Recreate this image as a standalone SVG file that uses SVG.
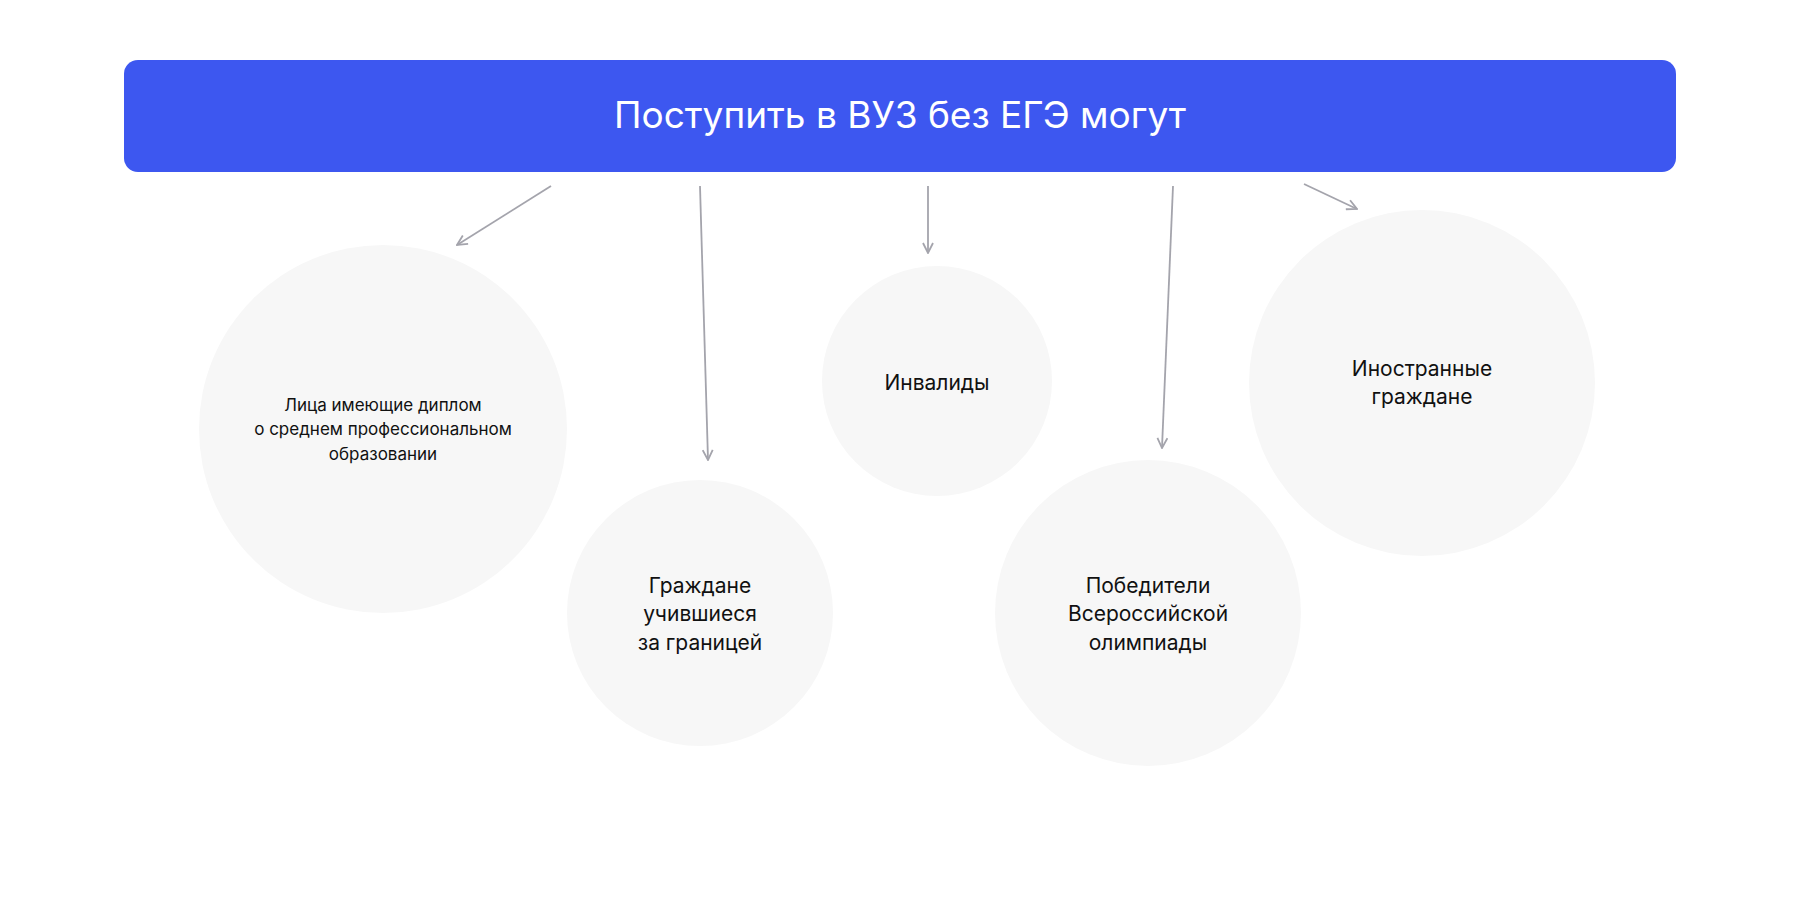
<svg xmlns="http://www.w3.org/2000/svg" width="1800" height="900" viewBox="0 0 1800 900">
<style>
.c{fill:#f7f7f7}
.t{font-family:Inter,"Noto Sans",sans-serif;fill:#111;text-anchor:middle;dominant-baseline:middle}
.s{font-size:17px}.m{font-size:21px}
.a{stroke:#a4a4ac;stroke-width:1.8;fill:none;marker-end:url(#h)}
</style>
<defs><marker id="h" viewBox="0 0 12 12" refX="11" refY="6" markerWidth="12" markerHeight="12" markerUnits="userSpaceOnUse" orient="auto"><path d="M1,1 L11,6 L1,11" fill="none" stroke="#a4a4ac" stroke-width="1.8"/></marker></defs>
<rect width="1800" height="900" fill="#fff"/>
<g id="header"><rect x="124" y="60" width="1552" height="112" rx="14" fill="#3d57f0"/><text class="t" x="900" y="118" font-size="37" fill="#fff" style="fill:#fff">Поступить в ВУЗ без ЕГЭ могут</text></g>
<g id="connectors">
<line class="a" x1="551" y1="186" x2="457" y2="245"/>
<line class="a" x1="700" y1="186" x2="708" y2="460"/>
<line class="a" x1="928" y1="186" x2="928" y2="253"/>
<line class="a" x1="1173" y1="186" x2="1162" y2="448"/>
<line class="a" x1="1304" y1="184" x2="1357" y2="209"/>
</g>
<g id="n1"><circle class="c" cx="383" cy="429" r="184"/><text class="t s" x="383" y="406">Лица имеющие диплом</text><text class="t s" x="383" y="430">о среднем профессиональном</text><text class="t s" x="383" y="455">образовании</text></g>
<g id="n2"><circle class="c" cx="700" cy="613" r="133"/><text class="t m" x="700" y="587">Граждане</text><text class="t m" x="700" y="615">учившиеся</text><text class="t m" x="700" y="644">за границей</text></g>
<g id="n3"><circle class="c" cx="937" cy="381" r="115"/><text class="t m" x="937" y="384">Инвалиды</text></g>
<g id="n4"><circle class="c" cx="1148" cy="613" r="153"/><text class="t m" x="1148" y="587">Победители</text><text class="t m" x="1148" y="615">Всероссийской</text><text class="t m" x="1148" y="644">олимпиады</text></g>
<g id="n5"><circle class="c" cx="1422" cy="383" r="173"/><text class="t m" x="1422" y="370">Иностранные</text><text class="t m" x="1422" y="398">граждане</text></g>
</svg>
